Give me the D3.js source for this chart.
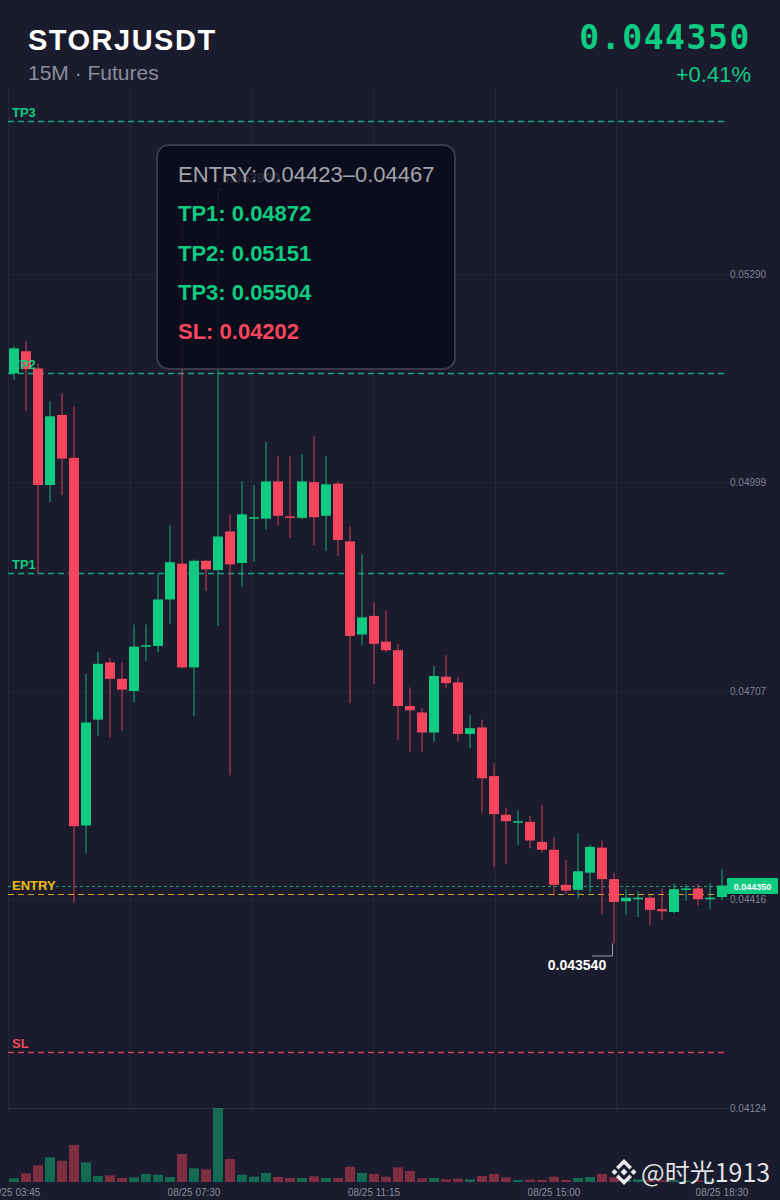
<!DOCTYPE html>
<html>
<head>
<meta charset="utf-8">
<script src="https://cdn.jsdelivr.net/npm/d3@7/dist/d3.min.js"></script>
<style>
  html, body { margin: 0; padding: 0; background: #1a1b2d; }
  svg { display: block; }
</style>
</head>
<body>
<svg id="chart" width="780" height="1200"></svg>
<script>
// ---------- data ----------
const symbol = "STORJUSDT";
const subtitle = "15M · Futures";
const lastPriceText = "0.044350";
const changeText = "+0.41%";

const opens  = [0.05151,0.05182,0.05158,0.04995,0.05093,0.05033,0.04519,0.04667,0.04747,0.04724,
                0.04707,0.04769,0.04770,0.04835,0.04885,0.04740,0.04889,0.04876,0.04930,0.04886,
                0.04949,0.04948,0.05000,0.04951,0.04949,0.04999,0.04952,0.04997,0.04916,0.04786,
                0.04812,0.04776,0.04764,0.04686,0.04677,0.04649,0.04727,0.04719,0.04647,0.04656,
                0.04588,0.04534,0.04523,0.04524,0.04496,0.04485,0.04436,0.04429,0.04453,0.04488,
                0.04444,0.04413,0.04417,0.04418,0.04402,0.04398,0.04430,0.04431,0.04417,0.04419];
const highs  = [0.05189,0.05196,0.05165,0.05112,0.05123,0.05105,0.04731,0.04762,0.04753,0.04747,
                0.04800,0.04800,0.04870,0.04939,0.05375,0.04891,0.04890,0.05390,0.04954,0.05000,
                0.04995,0.05055,0.05035,0.05035,0.05038,0.05063,0.05035,0.05000,0.04937,0.04898,
                0.04831,0.04820,0.04773,0.04712,0.04683,0.04742,0.04757,0.04727,0.04673,0.04667,
                0.04606,0.04544,0.04540,0.04532,0.04548,0.04502,0.04471,0.04508,0.04492,0.04498,
                0.04453,0.04430,0.04427,0.04423,0.04431,0.04438,0.04437,0.04437,0.04438,0.04458];
const lows   = [0.05142,0.05098,0.04871,0.04971,0.04981,0.04411,0.04480,0.04644,0.04642,0.04652,
                0.04691,0.04749,0.04761,0.04801,0.04738,0.04672,0.04847,0.04798,0.04589,0.04853,
                0.04888,0.04933,0.04938,0.04921,0.04947,0.04911,0.04903,0.04896,0.04690,0.04771,
                0.04717,0.04761,0.04639,0.04622,0.04622,0.04636,0.04711,0.04637,0.04627,0.04537,
                0.04461,0.04465,0.04492,0.04487,0.04481,0.04421,0.04423,0.04417,0.04426,0.04395,
                0.04354,0.04394,0.04391,0.04380,0.04387,0.04396,0.04414,0.04407,0.04402,0.04415];
const closes = [0.05186,0.05157,0.04995,0.05091,0.05032,0.04518,0.04663,0.04745,0.04724,0.04709,
                0.04769,0.04771,0.04835,0.04887,0.04740,0.04889,0.04877,0.04923,0.04884,0.04954,
                0.04950,0.05000,0.04952,0.04949,0.05000,0.04950,0.04996,0.04918,0.04784,0.04810,
                0.04773,0.04764,0.04686,0.04680,0.04649,0.04728,0.04718,0.04647,0.04655,0.04585,
                0.04535,0.04525,0.04525,0.04498,0.04485,0.04436,0.04428,0.04455,0.04489,0.04444,
                0.04412,0.04418,0.04418,0.04401,0.04399,0.04430,0.04431,0.04416,0.04418,0.04435];
const volumes = [37,87,167,247,213,370,197,60,67,40,
                 47,80,73,50,280,137,127,740,230,73,
                 53,90,50,40,40,57,40,40,153,90,
                 80,53,147,110,37,40,27,33,27,60,
                 80,47,20,23,20,53,20,40,50,80,
                 47,27,27,20,17,20,13,17,13,17];

const timeTickIndex = [0, 15, 30, 45, 59];
const timeTickLabels = ["08/25 03:45", "08/25 07:30", "08/25 11:15", "08/25 15:00", "08/25 18:30"];
const priceTicks = [0.05290, 0.04999, 0.04707, 0.04416, 0.04124];

const levelNames  = ["TP3", "TP2", "TP1", "ENTRY", "SL"];
const levelValues = [0.05504, 0.05151, 0.04872, 0.04423, 0.04202];
const currentPrice = 0.04435;
const highLabel = "0.053900";
const lowLabel = "0.043540";
const infoLines = ["ENTRY: 0.04423–0.04467", "TP1: 0.04872", "TP2: 0.05151", "TP3: 0.05504", "SL: 0.04202"];

// ---------- styles ----------
const GREEN = "#0ecb81", RED = "#f6465d", YELLOW = "#f0b90b";
const SANS = "'Liberation Sans', Arial, sans-serif";

const svg = d3.select("#chart");
svg.append("rect").attr("width", 780).attr("height", 1200).attr("fill", "#1a1b2d");

const n = opens.length;
const x = d3.scaleBand().domain(d3.range(n)).range([8, 728]).paddingInner(1/6).paddingOuter(1/12);
const cx = i => x(i) + x.bandwidth() / 2;
const y = d3.scaleLinear().domain([0.04124, 0.05290]).range([1108, 274]);
const yv = d3.scaleLinear().domain([0, d3.max(volumes)]).range([1182, 1108]);

// ---------- grid ----------
const grid = svg.append("g");
const vgrid = d3.scaleLinear().domain([0, 6]).range([8, 738]);
grid.selectAll("line.v").data(d3.range(0, 6)).join("line")
  .attr("x1", d => Math.round(vgrid(d)) + 0.5).attr("x2", d => Math.round(vgrid(d)) + 0.5)
  .attr("y1", 87).attr("y2", 1108)
  .attr("stroke", "#252638").attr("stroke-width", 1);
grid.selectAll("line.h").data(priceTicks).join("line")
  .attr("x1", 8).attr("x2", 728)
  .attr("y1", d => Math.round(y(d)) + 0.5).attr("y2", d => Math.round(y(d)) + 0.5)
  .attr("stroke", d => d === 0.04124 ? "#2c2d40" : "#232436").attr("stroke-width", 1);

// right axis labels
const yAxis = d3.axisRight(y).tickValues(priceTicks).tickFormat(d3.format(".5f")).tickSize(0).tickPadding(0);
const ya = svg.append("g").attr("transform", "translate(730,0)").call(yAxis);
ya.select(".domain").remove();
ya.selectAll("text").attr("fill", "#7e8192").attr("font-size", 10).attr("font-family", SANS).attr("dy", "0.35em");

// bottom axis labels
const xAxis = d3.axisBottom(x).tickValues(timeTickIndex)
  .tickFormat((d, i) => timeTickLabels[i]).tickSize(0).tickPadding(0);
const xa = svg.append("g").attr("transform", "translate(0,1189)").call(xAxis);
xa.select(".domain").remove();
xa.selectAll("text").attr("fill", "#8a8d9c").attr("font-size", 10).attr("font-family", SANS).attr("dy", "0.71em");

// ---------- volume ----------
const up = i => closes[i] >= opens[i];
svg.append("g").selectAll("rect").data(volumes).join("rect")
  .attr("x", (d, i) => x(i)).attr("width", x.bandwidth())
  .attr("y", d => yv(d)).attr("height", d => 1182 - yv(d))
  .attr("fill", (d, i) => up(i) ? GREEN : RED)
  .attr("fill-opacity", 0.45);

// ---------- level lines ----------
const levelColor = name => name === "ENTRY" ? YELLOW : (name === "SL" ? RED : GREEN);
const lineColor = name => name === "ENTRY" ? "#d9a514" : (name === "SL" ? "#c8405a" : "#13a87c");
const lv = svg.append("g");
const levelY = levelValues.map(v => Math.round(y(v)) + 0.5);
levelNames.forEach((name, k) => {
  lv.append("line").attr("x1", 8).attr("x2", 727).attr("y1", levelY[k]).attr("y2", levelY[k])
    .attr("stroke", lineColor(name))
    .attr("stroke-width", name === "ENTRY" ? 1.2 : 1.5).attr("stroke-dasharray", "6,4");
});
// current price line
const cpy = Math.round(y(currentPrice)) + 0.5;
lv.append("line").attr("x1", 8).attr("x2", 727).attr("y1", cpy).attr("y2", cpy)
  .attr("stroke", "#13a87c").attr("stroke-width", 1).attr("stroke-dasharray", "3,3");

// ---------- candles ----------
const cg = svg.append("g");
d3.range(n).forEach(i => {
  const col = up(i) ? GREEN : RED;
  cg.append("line").attr("x1", cx(i)).attr("x2", cx(i))
    .attr("y1", y(highs[i])).attr("y2", y(lows[i]))
    .attr("stroke", col).attr("stroke-width", 1).attr("stroke-opacity", 0.85);
  const top = y(Math.max(opens[i], closes[i]));
  const bot = y(Math.min(opens[i], closes[i]));
  cg.append("rect").attr("x", x(i)).attr("width", x.bandwidth())
    .attr("y", top).attr("height", Math.max(1.5, bot - top))
    .attr("fill", col);
});

// level labels drawn above candles
levelNames.forEach((name, k) => {
  svg.append("text").attr("x", 12).attr("y", levelY[k] - 4.5).text(name)
    .attr("fill", levelColor(name)).attr("font-size", 13).attr("font-weight", "bold")
    .attr("font-family", SANS);
});

// ---------- min / max labels ----------
const iMax = d3.maxIndex(highs), iMin = d3.minIndex(lows);
const hx = cx(iMax), hy = y(highs[iMax]);
svg.append("path").attr("d", `M${hx},${hy} V${hy - 13} H${hx + 4}`)
  .attr("fill", "none").attr("stroke", "#9a9aa6").attr("stroke-width", 1);
svg.append("text").attr("x", hx + 4).attr("y", hy - 19).text(highLabel)
  .attr("fill", "#ffffff").attr("font-size", 14).attr("font-weight", "bold").attr("font-family", SANS);
const lx = cx(iMin), ly = y(lows[iMin]);
svg.append("path").attr("d", `M${lx - 1.5},${ly} V${ly + 12.5} H${lx - 22}`)
  .attr("fill", "none").attr("stroke", "#9a9aa6").attr("stroke-width", 1);
svg.append("text").attr("x", lx - 37).attr("y", ly + 27).attr("text-anchor", "middle").text(lowLabel)
  .attr("fill", "#ffffff").attr("font-size", 14).attr("font-weight", "bold").attr("font-family", SANS);

// ---------- price tag ----------
svg.append("rect").attr("x", 727).attr("y", cpy - 8.5).attr("width", 51).attr("height", 16)
  .attr("fill", GREEN).attr("rx", 1);
svg.append("text").attr("x", 752.5).attr("y", cpy + 3).attr("text-anchor", "middle").text(lastPriceText)
  .attr("fill", "#ffffff").attr("font-size", 9).attr("font-weight", "bold").attr("font-family", SANS);

// ---------- info box ----------
svg.append("rect").attr("x", 157).attr("y", 145).attr("width", 298).attr("height", 224).attr("rx", 12)
  .attr("fill", "#0a0b1a").attr("fill-opacity", 0.88)
  .attr("stroke", "#3a3a45").attr("stroke-width", 2);
const infoColors = ["#a3a3ab", GREEN, GREEN, GREEN, RED];
infoLines.forEach((t, k) => {
  svg.append("text").attr("x", 178).attr("y", 182 + k * 39.3).text(t)
    .attr("fill", infoColors[k]).attr("font-size", 22)
    .attr("font-weight", k === 0 ? "normal" : "bold").attr("font-family", SANS);
});

// ---------- header ----------
svg.append("text").attr("x", 28).attr("y", 50).text(symbol)
  .attr("fill", "#ffffff").attr("font-size", 29).attr("font-weight", "bold")
  .attr("letter-spacing", 1.5).attr("font-family", SANS);
svg.append("text").attr("x", 28).attr("y", 80).text(subtitle)
  .attr("fill", "#8a8d9c").attr("font-size", 21).attr("font-family", SANS);
svg.append("text").attr("x", 751).attr("y", 49).attr("text-anchor", "end").text(lastPriceText)
  .attr("fill", GREEN).attr("font-size", 33).attr("font-weight", "bold")
  .attr("letter-spacing", 1.6).attr("font-family", "'DejaVu Sans Mono', monospace");
svg.append("text").attr("x", 751).attr("y", 82).attr("text-anchor", "end").text(changeText)
  .attr("fill", GREEN).attr("font-size", 22).attr("font-family", SANS);

// ---------- watermark ----------
const wm = svg.append("g").attr("transform", "translate(624,1172)").attr("fill", "#ffffff").attr("fill-opacity", 0.9);
const dia = (cx0, cy0, r) => `M${cx0},${cy0 - r} L${cx0 + r},${cy0} L${cx0},${cy0 + r} L${cx0 - r},${cy0} Z`;
wm.append("path").attr("d", dia(0, 0, 3.5));
wm.append("path").attr("d", dia(-9.5, 0, 3));
wm.append("path").attr("d", dia(9.5, 0, 3));
wm.append("path").attr("d", "M0,-13 L8,-5 L5.5,-2.5 L0,-8 L-5.5,-2.5 L-8,-5 Z");
wm.append("path").attr("d", "M0,13 L8,5 L5.5,2.5 L0,8 L-5.5,2.5 L-8,5 Z");
svg.append("text").attr("x", 641).attr("y", 1182).text("@时光1913")
  .attr("fill", "#ffffff").attr("fill-opacity", 0.88).attr("font-size", 25)
  .attr("font-family", "'Noto Sans CJK SC', sans-serif");
</script>
</body>
</html>
